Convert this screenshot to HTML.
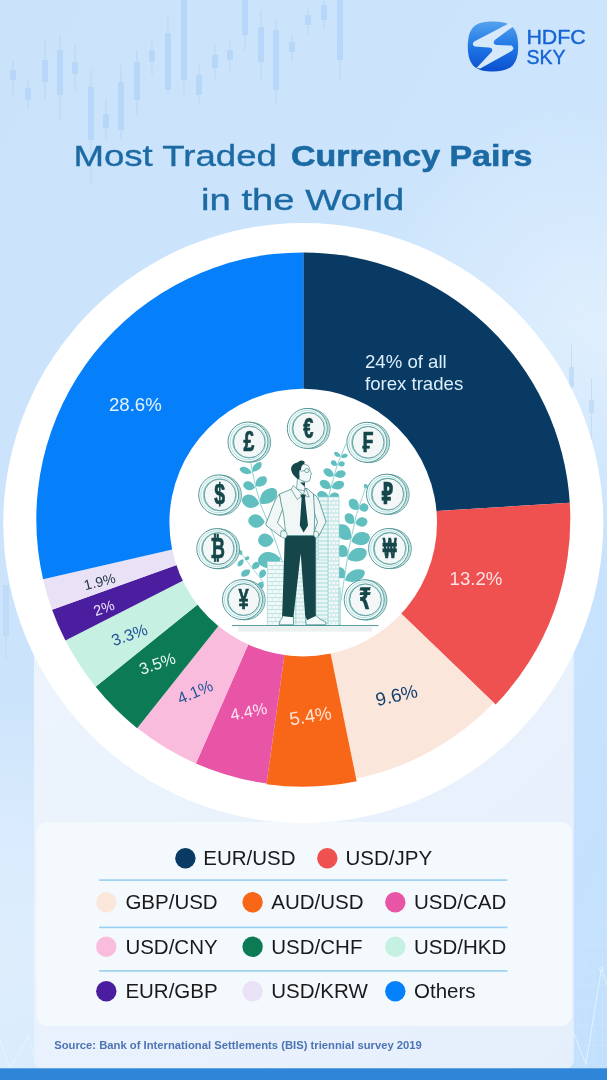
<!DOCTYPE html>
<html><head><meta charset="utf-8"><title>Most Traded Currency Pairs in the World</title>
<style>
html,body{margin:0;padding:0;background:#cfe5fb;}
body{width:607px;height:1080px;overflow:hidden;}
svg{display:block}
text{font-family:"Liberation Sans","DejaVu Sans",sans-serif;}
.lg{font-size:20.5px;fill:#1a1a1a;}
.pl{font-size:18.6px;}
.t1{font-size:30px;fill:#1c6aa3;}
</style></head><body>
<svg width="607" height="1080" viewBox="0 0 607 1080">
<defs>
<linearGradient id="bg" x1="0" y1="0" x2="1" y2="1"><stop offset="0" stop-color="#cae2fa"/><stop offset="0.5" stop-color="#cde5fc"/><stop offset="1" stop-color="#c2e0fd"/></linearGradient>
<linearGradient id="panel" x1="0" y1="0" x2="1" y2="1"><stop offset="0" stop-color="#edf4fc"/><stop offset="1" stop-color="#e5effc"/></linearGradient>
<linearGradient id="logo" x1="0" y1="0" x2="0" y2="1"><stop offset="0" stop-color="#55a2ee"/><stop offset="0.5" stop-color="#2077e6"/><stop offset="1" stop-color="#0b4fcf"/></linearGradient>
<radialGradient id="glow" gradientUnits="userSpaceOnUse" cx="600" cy="330" r="230"><stop offset="0" stop-color="#fff" stop-opacity="0.42"/><stop offset="1" stop-color="#fff" stop-opacity="0"/></radialGradient>
<radialGradient id="glow2" gradientUnits="userSpaceOnUse" cx="0" cy="960" r="260"><stop offset="0" stop-color="#fff" stop-opacity="0.34"/><stop offset="0.6" stop-color="#fff" stop-opacity="0.22"/><stop offset="1" stop-color="#fff" stop-opacity="0"/></radialGradient>
</defs>
<rect width="607" height="1080" fill="url(#bg)"/>
<rect width="607" height="700" fill="url(#glow)"/>
<rect y="690" width="300" height="390" fill="url(#glow2)"/>
<g fill="#b4d5f8" opacity="0.85"><rect x="12.5" y="60" width="1" height="35"/><rect x="10.0" y="70" width="6" height="10"/><rect x="27.5" y="80" width="1" height="28"/><rect x="25.0" y="88" width="6" height="12"/><rect x="44.5" y="40" width="1" height="60"/><rect x="42.0" y="60" width="6" height="22"/><rect x="59.5" y="35" width="1" height="85"/><rect x="57.0" y="50" width="6" height="45"/><rect x="74.5" y="45" width="1" height="45"/><rect x="72.0" y="62" width="6" height="12"/><rect x="90.5" y="70" width="1" height="115"/><rect x="88.0" y="87" width="6" height="53"/><rect x="105.5" y="100" width="1" height="40"/><rect x="103.0" y="114" width="6" height="14"/><rect x="120.5" y="65" width="1" height="75"/><rect x="118.0" y="82" width="6" height="48"/><rect x="136.5" y="50" width="1" height="65"/><rect x="134.0" y="62" width="6" height="38"/><rect x="151.5" y="40" width="1" height="35"/><rect x="149.0" y="50" width="6" height="12"/><rect x="167.5" y="15" width="1" height="80"/><rect x="165.0" y="33" width="6" height="57"/><rect x="183.5" y="0" width="1" height="95"/><rect x="181.0" y="0" width="6" height="80"/><rect x="198.5" y="65" width="1" height="40"/><rect x="196.0" y="75" width="6" height="20"/><rect x="214.5" y="45" width="1" height="35"/><rect x="212.0" y="55" width="6" height="13"/><rect x="229.5" y="40" width="1" height="32"/><rect x="227.0" y="50" width="6" height="10"/><rect x="244.5" y="0" width="1" height="50"/><rect x="242.0" y="0" width="6" height="35"/><rect x="260.5" y="10" width="1" height="70"/><rect x="258.0" y="27" width="6" height="35"/><rect x="275.5" y="20" width="1" height="85"/><rect x="273.0" y="30" width="6" height="60"/><rect x="291.5" y="35" width="1" height="27"/><rect x="289.0" y="42" width="6" height="10"/><rect x="307.5" y="8" width="1" height="27"/><rect x="305.0" y="15" width="6" height="10"/><rect x="323.5" y="0" width="1" height="30"/><rect x="321.0" y="5" width="6" height="15"/><rect x="339.5" y="0" width="1" height="80"/><rect x="337.0" y="0" width="6" height="60"/></g>
<g fill="#bcd9f6" opacity="0.75"><rect x="3" y="585" width="6" height="51"/><rect x="5.5" y="636" width="1" height="24"/>
<rect x="569" y="367" width="5" height="20"/><rect x="571" y="345" width="1" height="50"/><rect x="589" y="400" width="5" height="13"/><rect x="591" y="378" width="1" height="62"/></g>
<g fill="none" stroke="#eaf5ff" stroke-width="1" opacity="0.8"><path d="M573.7,1033 L585.9,1064.4 L601.4,968.9 L607,985"/><circle cx="601.4" cy="968.9" r="1.8"/>
<path d="M0,1040 L10,1068 L28,1037.7 L36,1062"/><circle cx="28" cy="1037.7" r="1.8"/></g>
<g stroke="#e4f1fe" stroke-width="0.8" stroke-dasharray="1.2 2" opacity="0.7" fill="none"><path d="M578,905V1068M586,905V1068M594,905V1068M602,905V1068M574,925H607M574,945H607M574,965H607M574,985H607M574,1005H607M574,1025H607M574,1045H607"/>
<path d="M6,905V1068M14,905V1068M22,905V1068M30,905V1068M0,925H34M0,945H34M0,965H34M0,985H34M0,1005H34M0,1025H34M0,1045H34"/></g>
<rect x="34" y="600" width="539.8" height="468.5" rx="8" fill="url(#panel)"/>
<rect x="36.5" y="822" width="535.5" height="204" rx="11" fill="#f5f9fd" opacity="0.9"/>
<rect x="0" y="1068.3" width="607" height="12" fill="#2f86d9"/>
<circle cx="303.3" cy="523" r="300" fill="#fff"/>
<path d="M303.3,519.4L303.30,252.40A267,267 0 0 1 569.77,502.63Z" fill="#083a63"/>
<path d="M303.3,519.4L569.77,502.63A267,267 0 0 1 495.62,704.61Z" fill="#ef5050"/>
<path d="M303.3,519.4L493.82,702.87A264.5,264.5 0 0 1 356.12,778.57Z" fill="#fbe6dc"/>
<path d="M303.3,519.4L356.68,781.32A267.3,267.3 0 0 1 266.47,784.15Z" fill="#f86618"/>
<path d="M303.3,519.4L266.57,783.46A266.6,266.6 0 0 1 195.89,763.40Z" fill="#e855a6"/>
<path d="M303.3,519.4L195.89,763.40A266.6,266.6 0 0 1 137.26,727.99Z" fill="#f9bcdc"/>
<path d="M303.3,519.4L137.14,728.14A266.8,266.8 0 0 1 95.61,686.87Z" fill="#0b7a55"/>
<path d="M303.3,519.4L95.61,686.87A266.8,266.8 0 0 1 65.58,640.52Z" fill="#c6f0e1"/>
<path d="M303.3,519.4L65.40,640.62A267,267 0 0 1 52.08,609.84Z" fill="#4a1e9e"/>
<path d="M303.3,519.4L52.08,609.84A267,267 0 0 1 43.10,579.28Z" fill="#e9e1f5"/>
<path d="M303.3,519.4L43.10,579.28A267,267 0 0 1 303.30,252.40Z" fill="#0580fa"/>
<circle cx="303.2" cy="522.6" r="133.8" fill="#fff"/>
<g id="illu">
<path d="M250.8,463.3 L255.8,487.5 L260.8,505.0 L273.3,535.0 L282.5,561.7" fill="none" stroke="#62bfc0" stroke-width="0.7"/>
<path transform="translate(251.7,472.5) rotate(-160.3)" d="M0,0C1.24,-2.81 6.81,-5.47 12.02,-1.72Q13.13,-0.31 12.02,0.94C9.29,4.22 3.10,3.12 0,0Z" fill="#62bfc0"/>
<path transform="translate(255.0,487.5) rotate(-161.3)" d="M0,0C1.20,-3.75 6.58,-7.29 11.61,-2.29Q12.68,-0.42 11.61,1.25C8.97,5.63 2.99,4.17 0,0Z" fill="#62bfc0"/>
<path transform="translate(259.2,503.7) rotate(-161.2)" d="M0,0C1.76,-5.62 9.68,-10.94 17.08,-3.44Q18.66,-0.62 17.08,1.88C13.20,8.44 4.40,6.25 0,0Z" fill="#62bfc0"/>
<path transform="translate(264.7,521.7) rotate(-171.1)" d="M0,0C1.62,-5.81 8.91,-11.30 15.71,-3.55Q17.17,-0.65 15.71,1.94C12.15,8.72 4.05,6.46 0,0Z" fill="#62bfc0"/>
<path transform="translate(273.7,540.3) rotate(-175.6)" d="M0,0C1.54,-5.81 8.46,-11.30 14.92,-3.55Q16.30,-0.65 14.92,1.94C11.53,8.72 3.84,6.46 0,0Z" fill="#62bfc0"/>
<path transform="translate(280.8,558.7) rotate(177.5)" d="M0,0C2.25,-7.03 12.39,-13.67 21.85,-4.30Q23.87,-0.78 21.85,2.34C16.89,10.55 5.63,7.81 0,0Z" fill="#62bfc0"/>
<path transform="translate(252.5,471.7) rotate(-44.5)" d="M0,0C1.24,-2.81 6.81,-5.47 12.00,-1.72Q13.12,-0.31 12.00,0.94C9.28,4.22 3.09,3.12 0,0Z" fill="#62bfc0"/>
<path transform="translate(256.2,486.3) rotate(-39.3)" d="M0,0C1.31,-3.94 7.23,-7.66 12.75,-2.41Q13.93,-0.44 12.75,1.31C9.86,5.91 3.29,4.38 0,0Z" fill="#62bfc0"/>
<path transform="translate(260.8,503.7) rotate(-40.7)" d="M0,0C2.04,-5.81 11.25,-11.30 19.83,-3.55Q21.67,-0.65 19.83,1.94C15.33,8.72 5.11,6.46 0,0Z" fill="#62bfc0"/>
<path d="M240.0,551.7 L250.0,565.0 L264.2,583.3" fill="none" stroke="#62bfc0" stroke-width="0.6"/>
<path transform="translate(241.7,555.0) rotate(-111.8)" d="M0,0C0.54,-1.69 2.96,-3.28 5.22,-1.03Q5.71,-0.19 5.22,0.56C4.04,2.53 1.35,1.88 0,0Z" fill="#62bfc0"/>
<path transform="translate(243.3,559.2) rotate(128.7)" d="M0,0C0.85,-2.06 4.70,-4.01 8.28,-1.26Q9.05,-0.23 8.28,0.69C6.40,3.09 2.13,2.29 0,0Z" fill="#62bfc0"/>
<path transform="translate(250.0,570.0) rotate(148.4)" d="M0,0C1.02,-2.81 5.60,-5.47 9.87,-1.72Q10.79,-0.31 9.87,0.94C7.63,4.22 2.54,3.12 0,0Z" fill="#62bfc0"/>
<path transform="translate(245.0,560.0) rotate(-35.8)" d="M0,0C0.51,-1.69 2.82,-3.28 4.98,-1.03Q5.44,-0.19 4.98,0.56C3.85,2.53 1.28,1.88 0,0Z" fill="#62bfc0"/>
<path transform="translate(252.5,568.7) rotate(-40.4)" d="M0,0C0.87,-2.81 4.81,-5.47 8.49,-1.72Q9.27,-0.31 8.49,0.94C6.56,4.22 2.19,3.12 0,0Z" fill="#62bfc0"/>
<path transform="translate(260.8,578.0) rotate(-64.4)" d="M0,0C0.89,-2.81 4.88,-5.47 8.60,-1.72Q9.40,-0.31 8.60,0.94C6.65,4.22 2.22,3.12 0,0Z" fill="#62bfc0"/>
<path transform="translate(262.5,581.7) rotate(122.0)" d="M0,0C0.79,-2.81 4.32,-5.47 7.63,-1.72Q8.33,-0.31 7.63,0.94C5.90,4.22 1.97,3.12 0,0Z" fill="#62bfc0"/>
<path d="M346.1,443.6 L337.1,465.3 L328.1,497.8 L325.4,515.9" fill="none" stroke="#62bfc0" stroke-width="0.7"/>
<path transform="translate(340.4,456.3) rotate(-146.3)" d="M0,0C0.72,-1.83 3.94,-3.56 6.95,-1.12Q7.60,-0.20 6.95,0.61C5.38,2.74 1.79,2.03 0,0Z" fill="#62bfc0"/>
<path transform="translate(337.1,464.9) rotate(-148.0)" d="M0,0C0.68,-2.24 3.75,-4.35 6.62,-1.37Q7.23,-0.25 6.62,0.75C5.12,3.35 1.71,2.49 0,0Z" fill="#62bfc0"/>
<path transform="translate(333.9,475.6) rotate(-147.8)" d="M0,0C1.15,-3.25 6.34,-6.33 11.19,-1.99Q12.23,-0.36 11.19,1.08C8.65,4.88 2.88,3.61 0,0Z" fill="#62bfc0"/>
<path transform="translate(331.1,487.4) rotate(-150.0)" d="M0,0C1.23,-3.66 6.77,-7.12 11.94,-2.24Q13.05,-0.41 11.94,1.22C9.23,5.49 3.08,4.07 0,0Z" fill="#62bfc0"/>
<path transform="translate(328.4,496.4) rotate(-164.2)" d="M0,0C1.13,-3.46 6.20,-6.72 10.93,-2.11Q11.95,-0.38 10.93,1.15C8.45,5.18 2.82,3.84 0,0Z" fill="#62bfc0"/>
<path transform="translate(341.1,457.2) rotate(-17.0)" d="M0,0C0.68,-1.83 3.74,-3.56 6.60,-1.12Q7.21,-0.20 6.60,0.61C5.10,2.74 1.70,2.03 0,0Z" fill="#62bfc0"/>
<path transform="translate(338.2,465.3) rotate(-18.4)" d="M0,0C0.69,-2.24 3.77,-4.35 6.65,-1.37Q7.27,-0.25 6.65,0.75C5.14,3.35 1.71,2.49 0,0Z" fill="#62bfc0"/>
<path transform="translate(334.8,476.1) rotate(-14.9)" d="M0,0C1.12,-3.25 6.17,-6.33 10.89,-1.99Q11.90,-0.36 10.89,1.08C8.42,4.88 2.81,3.61 0,0Z" fill="#62bfc0"/>
<path transform="translate(332.0,488.1) rotate(-21.5)" d="M0,0C1.28,-3.66 7.05,-7.12 12.44,-2.24Q13.59,-0.41 12.44,1.22C9.62,5.49 3.21,4.07 0,0Z" fill="#62bfc0"/>
<path transform="translate(329.2,497.1) rotate(-8.4)" d="M0,0C0.99,-3.05 5.43,-5.93 9.57,-1.86Q10.46,-0.34 9.57,1.02C7.40,4.57 2.47,3.39 0,0Z" fill="#62bfc0"/>
<path d="M366.0,486.1 L356.1,515.9 L348.9,548.4 L343.4,584.6 L339.8,608.1" fill="none" stroke="#62bfc0" stroke-width="0.7"/>
<path transform="translate(358.4,509.6) rotate(-127.0)" d="M0,0C1.29,-4.07 7.10,-7.91 12.52,-2.49Q13.68,-0.45 12.52,1.36C9.68,6.10 3.23,4.52 0,0Z" fill="#62bfc0"/>
<path transform="translate(353.7,523.5) rotate(-125.8)" d="M0,0C1.20,-4.07 6.62,-7.91 11.68,-2.49Q12.76,-0.45 11.68,1.36C9.03,6.10 3.01,4.52 0,0Z" fill="#62bfc0"/>
<path transform="translate(350.8,539.0) rotate(-131.8)" d="M0,0C1.84,-5.90 10.14,-11.47 17.88,-3.60Q19.54,-0.66 17.88,1.97C13.82,8.84 4.61,6.55 0,0Z" fill="#62bfc0"/>
<path transform="translate(347.2,556.0) rotate(-131.6)" d="M0,0C1.31,-5.08 7.18,-9.88 12.67,-3.11Q13.84,-0.56 12.67,1.69C9.79,7.62 3.26,5.65 0,0Z" fill="#62bfc0"/>
<path transform="translate(344.3,577.7) rotate(-126.5)" d="M0,0C1.21,-4.47 6.68,-8.70 11.78,-2.73Q12.87,-0.50 11.78,1.49C9.11,6.71 3.04,4.97 0,0Z" fill="#62bfc0"/>
<path transform="translate(359.2,508.7) rotate(-9.1)" d="M0,0C0.92,-3.66 5.03,-7.12 8.88,-2.24Q9.70,-0.41 8.88,1.22C6.86,5.49 2.29,4.07 0,0Z" fill="#62bfc0"/>
<path transform="translate(355.5,523.5) rotate(-8.6)" d="M0,0C1.21,-4.07 6.64,-7.91 11.70,-2.49Q12.79,-0.45 11.70,1.36C9.05,6.10 3.02,4.52 0,0Z" fill="#62bfc0"/>
<path transform="translate(351.6,541.6) rotate(-13.5)" d="M0,0C1.86,-5.69 10.22,-11.07 18.03,-3.48Q19.70,-0.63 18.03,1.90C13.94,8.54 4.65,6.33 0,0Z" fill="#62bfc0"/>
<path transform="translate(348.0,559.6) rotate(-23.3)" d="M0,0C2.01,-5.69 11.04,-11.07 19.47,-3.48Q21.28,-0.63 19.47,1.90C15.06,8.54 5.02,6.33 0,0Z" fill="#62bfc0"/>
<path transform="translate(345.2,580.6) rotate(-23.3)" d="M0,0C2.10,-5.08 11.58,-9.88 20.42,-3.11Q22.31,-0.56 20.42,1.69C15.79,7.62 5.26,5.65 0,0Z" fill="#62bfc0"/>
<path transform="translate(364.2,487.4) rotate(-33.7)" d="M0,0C0.39,-2.03 2.15,-3.95 3.79,-1.24Q4.14,-0.23 3.79,0.68C2.93,3.05 0.98,2.26 0,0Z" fill="#62bfc0"/>
<rect x="267.2" y="561.6" width="16.8" height="63.7" fill="#f2f9f8" stroke="#8fd0cf" stroke-width="0.6"/>
<path d="M267.2,565.6H284.0M267.2,569.6H284.0M267.2,573.6H284.0M267.2,577.6H284.0M267.2,581.6H284.0M267.2,585.6H284.0M267.2,589.6H284.0M267.2,593.6H284.0M267.2,597.6H284.0M267.2,601.6H284.0M267.2,605.6H284.0M267.2,609.6H284.0M267.2,613.6H284.0M267.2,617.6H284.0M267.2,621.6H284.0" stroke="#8fd0cf" stroke-width="0.6" fill="none"/>
<path d="M275.6,562.4v2.4M272.2,566.4v2.4M279.0,566.4v2.4M275.6,570.4v2.4M272.2,574.4v2.4M279.0,574.4v2.4M275.6,578.4v2.4M272.2,582.4v2.4M279.0,582.4v2.4M275.6,586.4v2.4M272.2,590.4v2.4M279.0,590.4v2.4M275.6,594.4v2.4M272.2,598.4v2.4M279.0,598.4v2.4M275.6,602.4v2.4M272.2,606.4v2.4M279.0,606.4v2.4M275.6,610.4v2.4M272.2,614.4v2.4M279.0,614.4v2.4M275.6,618.4v2.4M272.2,622.4v2.4M279.0,622.4v2.4" stroke="#b5e0df" stroke-width="0.6" fill="none"/>
<rect x="284.0" y="566.0" width="12.0" height="59.3" fill="#f2f9f8" stroke="#8fd0cf" stroke-width="0.6"/>
<path d="M284.0,570.0H296.0M284.0,574.0H296.0M284.0,578.0H296.0M284.0,582.0H296.0M284.0,586.0H296.0M284.0,590.0H296.0M284.0,594.0H296.0M284.0,598.0H296.0M284.0,602.0H296.0M284.0,606.0H296.0M284.0,610.0H296.0M284.0,614.0H296.0M284.0,618.0H296.0M284.0,622.0H296.0" stroke="#8fd0cf" stroke-width="0.6" fill="none"/>
<path d="M290.0,566.8v2.4M287.6,570.8v2.4M292.4,570.8v2.4M290.0,574.8v2.4M287.6,578.8v2.4M292.4,578.8v2.4M290.0,582.8v2.4M287.6,586.8v2.4M292.4,586.8v2.4M290.0,590.8v2.4M287.6,594.8v2.4M292.4,594.8v2.4M290.0,598.8v2.4M287.6,602.8v2.4M292.4,602.8v2.4M290.0,606.8v2.4M287.6,610.8v2.4M292.4,610.8v2.4M290.0,614.8v2.4M287.6,618.8v2.4M292.4,618.8v2.4M290.0,622.8v2.4" stroke="#b5e0df" stroke-width="0.6" fill="none"/>
<rect x="296.0" y="570.0" width="10.0" height="55.3" fill="#f2f9f8" stroke="#8fd0cf" stroke-width="0.6"/>
<path d="M296.0,574.0H306.0M296.0,578.0H306.0M296.0,582.0H306.0M296.0,586.0H306.0M296.0,590.0H306.0M296.0,594.0H306.0M296.0,598.0H306.0M296.0,602.0H306.0M296.0,606.0H306.0M296.0,610.0H306.0M296.0,614.0H306.0M296.0,618.0H306.0M296.0,622.0H306.0" stroke="#8fd0cf" stroke-width="0.6" fill="none"/>
<path d="M301.0,570.8v2.4M299.0,574.8v2.4M303.0,574.8v2.4M301.0,578.8v2.4M299.0,582.8v2.4M303.0,582.8v2.4M301.0,586.8v2.4M299.0,590.8v2.4M303.0,590.8v2.4M301.0,594.8v2.4M299.0,598.8v2.4M303.0,598.8v2.4M301.0,602.8v2.4M299.0,606.8v2.4M303.0,606.8v2.4M301.0,610.8v2.4M299.0,614.8v2.4M303.0,614.8v2.4M301.0,618.8v2.4M299.0,622.8v2.4M303.0,622.8v2.4" stroke="#b5e0df" stroke-width="0.6" fill="none"/>
<rect x="316.0" y="539.0" width="12.1" height="86.3" fill="#e9f6f5" stroke="#8fd0cf" stroke-width="0.6"/>
<path d="M316.0,543.0H328.1M316.0,547.0H328.1M316.0,551.0H328.1M316.0,555.0H328.1M316.0,559.0H328.1M316.0,563.0H328.1M316.0,567.0H328.1M316.0,571.0H328.1M316.0,575.0H328.1M316.0,579.0H328.1M316.0,583.0H328.1M316.0,587.0H328.1M316.0,591.0H328.1M316.0,595.0H328.1M316.0,599.0H328.1M316.0,603.0H328.1M316.0,607.0H328.1M316.0,611.0H328.1M316.0,615.0H328.1M316.0,619.0H328.1M316.0,623.0H328.1" stroke="#8fd0cf" stroke-width="0.7" fill="none"/>
<rect x="318.1" y="497.0" width="10.0" height="63.0" fill="#e9f6f5" stroke="#8fd0cf" stroke-width="0.6"/>
<path d="M318.1,501.0H328.1M318.1,505.0H328.1M318.1,509.0H328.1M318.1,513.0H328.1M318.1,517.0H328.1M318.1,521.0H328.1M318.1,525.0H328.1M318.1,529.0H328.1M318.1,533.0H328.1M318.1,537.0H328.1M318.1,541.0H328.1M318.1,545.0H328.1M318.1,549.0H328.1M318.1,553.0H328.1M318.1,557.0H328.1" stroke="#8fd0cf" stroke-width="0.7" fill="none"/>
<rect x="328.1" y="497.0" width="10.9" height="128.3" fill="#f2f9f8" stroke="#8fd0cf" stroke-width="0.6"/>
<path d="M328.1,501.0H339.0M328.1,505.0H339.0M328.1,509.0H339.0M328.1,513.0H339.0M328.1,517.0H339.0M328.1,521.0H339.0M328.1,525.0H339.0M328.1,529.0H339.0M328.1,533.0H339.0M328.1,537.0H339.0M328.1,541.0H339.0M328.1,545.0H339.0M328.1,549.0H339.0M328.1,553.0H339.0M328.1,557.0H339.0M328.1,561.0H339.0M328.1,565.0H339.0M328.1,569.0H339.0M328.1,573.0H339.0M328.1,577.0H339.0M328.1,581.0H339.0M328.1,585.0H339.0M328.1,589.0H339.0M328.1,593.0H339.0M328.1,597.0H339.0M328.1,601.0H339.0M328.1,605.0H339.0M328.1,609.0H339.0M328.1,613.0H339.0M328.1,617.0H339.0M328.1,621.0H339.0" stroke="#8fd0cf" stroke-width="0.6" fill="none"/>
<path d="M333.6,497.8v2.4M331.4,501.8v2.4M335.7,501.8v2.4M333.6,505.8v2.4M331.4,509.8v2.4M335.7,509.8v2.4M333.6,513.8v2.4M331.4,517.8v2.4M335.7,517.8v2.4M333.6,521.8v2.4M331.4,525.8v2.4M335.7,525.8v2.4M333.6,529.8v2.4M331.4,533.8v2.4M335.7,533.8v2.4M333.6,537.8v2.4M331.4,541.8v2.4M335.7,541.8v2.4M333.6,545.8v2.4M331.4,549.8v2.4M335.7,549.8v2.4M333.6,553.8v2.4M331.4,557.8v2.4M335.7,557.8v2.4M333.6,561.8v2.4M331.4,565.8v2.4M335.7,565.8v2.4M333.6,569.8v2.4M331.4,573.8v2.4M335.7,573.8v2.4M333.6,577.8v2.4M331.4,581.8v2.4M335.7,581.8v2.4M333.6,585.8v2.4M331.4,589.8v2.4M335.7,589.8v2.4M333.6,593.8v2.4M331.4,597.8v2.4M335.7,597.8v2.4M333.6,601.8v2.4M331.4,605.8v2.4M335.7,605.8v2.4M333.6,609.8v2.4M331.4,613.8v2.4M335.7,613.8v2.4M333.6,617.8v2.4M331.4,621.8v2.4M335.7,621.8v2.4" stroke="#b5e0df" stroke-width="0.6" fill="none"/>
<rect x="339.0" y="588.0" width="1.6" height="37.3" fill="#f2f9f8" stroke="#8fd0cf" stroke-width="0.6"/>
<path d="M339.0,592.0H340.6M339.0,596.0H340.6M339.0,600.0H340.6M339.0,604.0H340.6M339.0,608.0H340.6M339.0,612.0H340.6M339.0,616.0H340.6M339.0,620.0H340.6M339.0,624.0H340.6" stroke="#8fd0cf" stroke-width="0.6" fill="none"/>
<path d="M339.8,588.8v2.4M339.5,592.8v2.4M340.1,592.8v2.4M339.8,596.8v2.4M339.5,600.8v2.4M340.1,600.8v2.4M339.8,604.8v2.4M339.5,608.8v2.4M340.1,608.8v2.4M339.8,612.8v2.4M339.5,616.8v2.4M340.1,616.8v2.4M339.8,620.8v2.4" stroke="#b5e0df" stroke-width="0.6" fill="none"/>
<rect x="232" y="625.2" width="146.5" height="0.9" fill="#3a8c8c"/>
<rect x="238" y="626.6" width="134" height="5" fill="#eaf1f0"/>
<g transform="translate(248.0,442.0)"><circle cx="2.8" cy="0.3" r="19.9" fill="#e4f4f2" stroke="#2f7d7d" stroke-width="0.7"/><circle cx="1.4" cy="0.15" r="19.9" fill="none" stroke="#7cc7c6" stroke-width="0.6"/><circle r="20.0" fill="#fbfefe" stroke="#2f7d7d" stroke-width="0.8"/><circle r="17.9" fill="none" stroke="#7cc7c6" stroke-width="0.6"/><circle cx="0.6" r="16.4" fill="#8fd0cd"/><circle cx="1.3" r="15.8" fill="#f3f7f7" stroke="#2f7d7d" stroke-width="0.7"/><text transform="translate(1,9.4) scale(0.66,1)" text-anchor="middle" font-size="29.5" font-weight="bold" fill="#15474a" stroke="#15474a" stroke-width="0.7">£</text></g>
<g transform="translate(307.3,428.4)"><circle cx="2.8" cy="0.3" r="19.9" fill="#e4f4f2" stroke="#2f7d7d" stroke-width="0.7"/><circle cx="1.4" cy="0.15" r="19.9" fill="none" stroke="#7cc7c6" stroke-width="0.6"/><circle r="20.0" fill="#fbfefe" stroke="#2f7d7d" stroke-width="0.8"/><circle r="17.9" fill="none" stroke="#7cc7c6" stroke-width="0.6"/><circle cx="0.6" r="16.4" fill="#8fd0cd"/><circle cx="1.3" r="15.8" fill="#f3f7f7" stroke="#2f7d7d" stroke-width="0.7"/><text transform="translate(1,9.4) scale(0.62,1)" text-anchor="middle" font-size="29.5" font-weight="bold" fill="#15474a" stroke="#15474a" stroke-width="0.7">€</text></g>
<g transform="translate(366.9,442.3)"><circle cx="2.8" cy="0.3" r="19.9" fill="#e4f4f2" stroke="#2f7d7d" stroke-width="0.7"/><circle cx="1.4" cy="0.15" r="19.9" fill="none" stroke="#7cc7c6" stroke-width="0.6"/><circle r="20.0" fill="#fbfefe" stroke="#2f7d7d" stroke-width="0.8"/><circle r="17.9" fill="none" stroke="#7cc7c6" stroke-width="0.6"/><circle cx="0.6" r="16.4" fill="#8fd0cd"/><circle cx="1.3" r="15.8" fill="#f3f7f7" stroke="#2f7d7d" stroke-width="0.7"/><text transform="translate(1,9.4) scale(0.66,1)" text-anchor="middle" font-size="29.5" font-weight="bold" fill="#15474a" stroke="#15474a" stroke-width="0.7">₣</text></g>
<g transform="translate(218.7,494.9)"><circle cx="2.8" cy="0.3" r="19.9" fill="#e4f4f2" stroke="#2f7d7d" stroke-width="0.7"/><circle cx="1.4" cy="0.15" r="19.9" fill="none" stroke="#7cc7c6" stroke-width="0.6"/><circle r="20.0" fill="#fbfefe" stroke="#2f7d7d" stroke-width="0.8"/><circle r="17.9" fill="none" stroke="#7cc7c6" stroke-width="0.6"/><circle cx="0.6" r="16.4" fill="#8fd0cd"/><circle cx="1.3" r="15.8" fill="#f3f7f7" stroke="#2f7d7d" stroke-width="0.7"/><text transform="translate(1,9.4) scale(0.66,1)" text-anchor="middle" font-size="29.5" font-weight="bold" fill="#15474a" stroke="#15474a" stroke-width="0.7">$</text></g>
<g transform="translate(386.5,494.2)"><circle cx="2.8" cy="0.3" r="19.9" fill="#e4f4f2" stroke="#2f7d7d" stroke-width="0.7"/><circle cx="1.4" cy="0.15" r="19.9" fill="none" stroke="#7cc7c6" stroke-width="0.6"/><circle r="20.0" fill="#fbfefe" stroke="#2f7d7d" stroke-width="0.8"/><circle r="17.9" fill="none" stroke="#7cc7c6" stroke-width="0.6"/><circle cx="0.6" r="16.4" fill="#8fd0cd"/><circle cx="1.3" r="15.8" fill="#f3f7f7" stroke="#2f7d7d" stroke-width="0.7"/><text transform="translate(1,9.4) scale(0.6,1)" text-anchor="middle" font-size="29.5" font-weight="bold" fill="#15474a" stroke="#15474a" stroke-width="0.25">₽</text></g>
<g transform="translate(216.8,548.6)"><circle cx="2.8" cy="0.3" r="19.9" fill="#e4f4f2" stroke="#2f7d7d" stroke-width="0.7"/><circle cx="1.4" cy="0.15" r="19.9" fill="none" stroke="#7cc7c6" stroke-width="0.6"/><circle r="20.0" fill="#fbfefe" stroke="#2f7d7d" stroke-width="0.8"/><circle r="17.9" fill="none" stroke="#7cc7c6" stroke-width="0.6"/><circle cx="0.6" r="16.4" fill="#8fd0cd"/><circle cx="1.3" r="15.8" fill="#f3f7f7" stroke="#2f7d7d" stroke-width="0.7"/><text transform="translate(1,9.4) scale(0.6,1)" text-anchor="middle" font-size="29.5" font-weight="bold" fill="#15474a" stroke="#15474a" stroke-width="0.7">₿</text></g>
<g transform="translate(388.6,548.5)"><circle cx="2.8" cy="0.3" r="19.9" fill="#e4f4f2" stroke="#2f7d7d" stroke-width="0.7"/><circle cx="1.4" cy="0.15" r="19.9" fill="none" stroke="#7cc7c6" stroke-width="0.6"/><circle r="20.0" fill="#fbfefe" stroke="#2f7d7d" stroke-width="0.8"/><circle r="17.9" fill="none" stroke="#7cc7c6" stroke-width="0.6"/><circle cx="0.6" r="16.4" fill="#8fd0cd"/><circle cx="1.3" r="15.8" fill="#f3f7f7" stroke="#2f7d7d" stroke-width="0.7"/><text transform="translate(1,9.4) scale(0.5,1)" text-anchor="middle" font-size="29.5" font-weight="bold" fill="#15474a" stroke="#15474a" stroke-width="0.7">₩</text></g>
<g transform="translate(242.5,599.6)"><circle cx="2.8" cy="0.3" r="19.9" fill="#e4f4f2" stroke="#2f7d7d" stroke-width="0.7"/><circle cx="1.4" cy="0.15" r="19.9" fill="none" stroke="#7cc7c6" stroke-width="0.6"/><circle r="20.0" fill="#fbfefe" stroke="#2f7d7d" stroke-width="0.8"/><circle r="17.9" fill="none" stroke="#7cc7c6" stroke-width="0.6"/><circle cx="0.6" r="16.4" fill="#8fd0cd"/><circle cx="1.3" r="15.8" fill="#f3f7f7" stroke="#2f7d7d" stroke-width="0.7"/><text transform="translate(1,9.4) scale(0.62,1)" text-anchor="middle" font-size="29.5" font-weight="bold" fill="#15474a" stroke="#15474a" stroke-width="0.7">¥</text></g>
<g transform="translate(364.2,599.8)"><circle cx="2.8" cy="0.3" r="19.9" fill="#e4f4f2" stroke="#2f7d7d" stroke-width="0.7"/><circle cx="1.4" cy="0.15" r="19.9" fill="none" stroke="#7cc7c6" stroke-width="0.6"/><circle r="20.0" fill="#fbfefe" stroke="#2f7d7d" stroke-width="0.8"/><circle r="17.9" fill="none" stroke="#7cc7c6" stroke-width="0.6"/><circle cx="0.6" r="16.4" fill="#8fd0cd"/><circle cx="1.3" r="15.8" fill="#f3f7f7" stroke="#2f7d7d" stroke-width="0.7"/><text transform="translate(1,9.4) scale(0.62,1)" text-anchor="middle" font-size="29.5" font-weight="bold" fill="#15474a" stroke="#15474a" stroke-width="0.25">₹</text></g>
<path d="M282.5,615.5 L293.5,616.5 L293.5,624.8 L279.3,624.8 Q279.3,620 282.5,617.5Z" fill="#f4f9f9" stroke="#2f7d7d" stroke-width="0.7"/>
<path d="M305.8,616 L315.8,615.5 Q320,620 325.5,621.8 Q326.8,624.8 325,624.8 L306,624.8Z" fill="#f4f9f9" stroke="#2f7d7d" stroke-width="0.7"/>
<path d="M284.8,535.6 L315.7,535.6 L315.8,616 L307.2,620 L305.2,616 L300.7,553.5 L293.4,617.3 L282.1,616 L283.6,575Z" fill="#15474a"/>
<path d="M279.5,494 Q276.5,496 274,503 L266,523.5 Q265.5,525 266.8,526 L281,536.8 L286,532 L277.5,523 L283,508Z" fill="#f1f7f6" stroke="#2f7d7d" stroke-width="0.7" stroke-linejoin="round"/>
<path d="M313.5,494 Q317.5,495.5 319.5,502 L325.8,521 Q326.2,522.8 325,523.8 L318.8,536 L314,532.5 L317.5,522 L312.5,508Z" fill="#f1f7f6" stroke="#2f7d7d" stroke-width="0.7" stroke-linejoin="round"/>
<path d="M279.5,494 L293,488.5 L307,488.5 L313.5,494 Q315.5,515 314.2,535.6 L285.6,535.6 Q284.5,515 281,503Z" fill="#f1f7f6" stroke="#2f7d7d" stroke-width="0.7" stroke-linejoin="round"/>
<path d="M281,531 Q284,529.5 286.8,532.5 Q288,536 285.5,538.2 Q282.5,538.6 280.6,536Z" fill="#f1f7f6" stroke="#2f7d7d" stroke-width="0.6"/>
<path d="M314.2,531.5 Q317,530.5 318.8,533 Q319,536.5 316.6,538 Q314.2,537.6 313.6,535Z" fill="#f1f7f6" stroke="#2f7d7d" stroke-width="0.6"/>
<path d="M297.5,478 L304.5,482 L304.8,491 L296.5,489Z" fill="#f1f7f6" stroke="#2f7d7d" stroke-width="0.6"/>
<path d="M300,482.5 L305,482.5 L304.6,486.5Z" fill="#15474a"/>
<path d="M293.2,485.5 L291.3,489.5 L297.2,499.5 L303.2,494.8Z" fill="#f1f7f6" stroke="#2f7d7d" stroke-width="0.6" stroke-linejoin="round"/>
<path d="M305.8,488 L309.2,497.2 L303.2,494.8Z" fill="#f1f7f6" stroke="#2f7d7d" stroke-width="0.6" stroke-linejoin="round"/>
<path d="M300.3,494.6 L305.6,494.6 L305,498.2 L308,525.5 L303.6,532.6 L299.8,525.5 L301.6,498.2Z" fill="#15474a"/>
<path d="M298.5,466 Q303,462.5 308,465.5 Q310.2,468 310,471 L311.8,474.2 L310.4,475 L310.6,478 Q310.2,481.8 306.5,482 Q301,481.5 298,477.5Z" fill="#f1f7f6" stroke="#2f7d7d" stroke-width="0.6" stroke-linejoin="round"/>
<path d="M298.6,479.4 Q292.5,476 291,469.5 Q291,463.5 298,462.2 Q299.5,460 303,460.8 Q305.8,462.2 304.2,463.8 Q300.8,465.5 301,470 L299.6,470.2 Q299,474 299.6,477Z" fill="#15474a"/>
<circle cx="306.8" cy="470.6" r="2.1" fill="none" stroke="#2f7d7d" stroke-width="0.6"/><path d="M300.5,471.2 L304.7,470.7" stroke="#2f7d7d" stroke-width="0.6"/>
</g>
<!-- title -->
<text x="73.4" y="166.4" class="t1" stroke="#1c6aa3" stroke-width="0.35" textLength="203.5" lengthAdjust="spacingAndGlyphs">Most Traded</text>
<text x="291" y="166.4" class="t1" font-weight="bold" stroke="#1c6aa3" stroke-width="0.6" textLength="241.5" lengthAdjust="spacingAndGlyphs">Currency Pairs</text>
<text x="201" y="210" class="t1" stroke="#1c6aa3" stroke-width="0.35" textLength="203.4" lengthAdjust="spacingAndGlyphs">in the World</text>
<!-- logo -->
<g transform="translate(460,14) scale(0.10873)">
<path d="M303,68 C440,68 535,100 535,298 C535,480 450,528 303,528 C150,528 72,480 72,298 C72,100 160,68 303,68Z" fill="url(#logo)"/>
<path d="M452,86 L135,250 Q100,275 135,300 L262,308 Q312,314 290,350 L152,496 L186,502 L475,340 Q508,316 475,290 L342,286 Q292,276 320,238 L492,112 Z" fill="#d6e9fb"/>
</g>
<text x="526.4" y="43.8" font-size="20" fill="#1565d8" stroke="#1565d8" stroke-width="0.4" textLength="59.4" lengthAdjust="spacingAndGlyphs">HDFC</text>
<text x="526.4" y="63.5" font-size="20" fill="#1565d8" stroke="#1565d8" stroke-width="0.4" textLength="39.1" lengthAdjust="spacingAndGlyphs">SKY</text>
<!-- pie labels -->
<text x="365" y="367.7" class="pl" fill="#dcedfb">24% of all</text>
<text x="365" y="390" class="pl" fill="#dcedfb">forex trades</text>
<text x="109" y="410.5" class="pl" fill="#e6f3ff">28.6%</text>
<text x="449.6" y="585.2" class="pl" fill="#fde3e3">13.2%</text>
<text transform="translate(396.5,695) rotate(-13)" text-anchor="middle" y="6.6" class="pl" fill="#12406e">9.6%</text>
<text transform="translate(310.3,715.7) rotate(-9)" text-anchor="middle" y="6.6" class="pl" fill="#fde6d8">5.4%</text>
<text transform="translate(248.6,711.4) rotate(-10.7)" text-anchor="middle" y="5.8" font-size="16.3" fill="#fde6f3">4.4%</text>
<text transform="translate(195,691.8) rotate(-23)" text-anchor="middle" y="5.8" font-size="16.3" fill="#26569a">4.1%</text>
<text transform="translate(157.2,663.4) rotate(-19)" text-anchor="middle" y="5.8" font-size="16.3" fill="#e6f7f0">3.5%</text>
<text transform="translate(129.3,634.6) rotate(-19)" text-anchor="middle" y="5.8" font-size="16.3" fill="#26569a">3.3%</text>
<text transform="translate(103.9,607.7) rotate(-20)" text-anchor="middle" y="5.2" font-size="14.5" fill="#eee6fb">2%</text>
<text transform="translate(99.6,581.5) rotate(-14)" text-anchor="middle" y="5" font-size="14" fill="#26364a">1.9%</text>
<!-- legend -->
<circle cx="185.4" cy="858.2" r="10.2" fill="#083a63"/><text x="203.3" y="865.2" class="lg">EUR/USD</text>
<circle cx="327.3" cy="858.2" r="10.2" fill="#ef5050"/><text x="345.5" y="865.2" class="lg">USD/JPY</text>
<circle cx="106.3" cy="902.3" r="10.2" fill="#fbe6dc"/><text x="125.4" y="909.3" class="lg">GBP/USD</text>
<circle cx="252.6" cy="902.3" r="10.2" fill="#f86618"/><text x="271.3" y="909.3" class="lg">AUD/USD</text>
<circle cx="395.3" cy="902.3" r="10.2" fill="#e855a6"/><text x="414" y="909.3" class="lg">USD/CAD</text>
<circle cx="106.3" cy="946.8" r="10.2" fill="#f9bcdc"/><text x="125.4" y="953.8" class="lg">USD/CNY</text>
<circle cx="252.6" cy="946.8" r="10.2" fill="#0b7a55"/><text x="271.3" y="953.8" class="lg">USD/CHF</text>
<circle cx="395.3" cy="946.8" r="10.2" fill="#c6f0e1"/><text x="414" y="953.8" class="lg">USD/HKD</text>
<circle cx="106.3" cy="991.2" r="10.2" fill="#4a1e9e"/><text x="125.4" y="998.2" class="lg">EUR/GBP</text>
<circle cx="252.6" cy="991.2" r="10.2" fill="#e9e1f5"/><text x="271.3" y="998.2" class="lg">USD/KRW</text>
<circle cx="395.3" cy="991.2" r="10.2" fill="#0381fc"/><text x="414" y="998.2" class="lg">Others</text>
<rect x="99.2" y="879.3" width="408.2" height="1.6" fill="#97cfee"/>
<rect x="99.2" y="926.6" width="408.2" height="1.6" fill="#97cfee"/>
<rect x="99.2" y="970.1" width="408.2" height="1.6" fill="#97cfee"/>
<text x="54.2" y="1048.8" font-size="11" font-weight="bold" fill="#4d74b4" textLength="367.7" lengthAdjust="spacingAndGlyphs">Source: Bank of International Settlements (BIS) triennial survey 2019</text>
</svg>
</body></html>
